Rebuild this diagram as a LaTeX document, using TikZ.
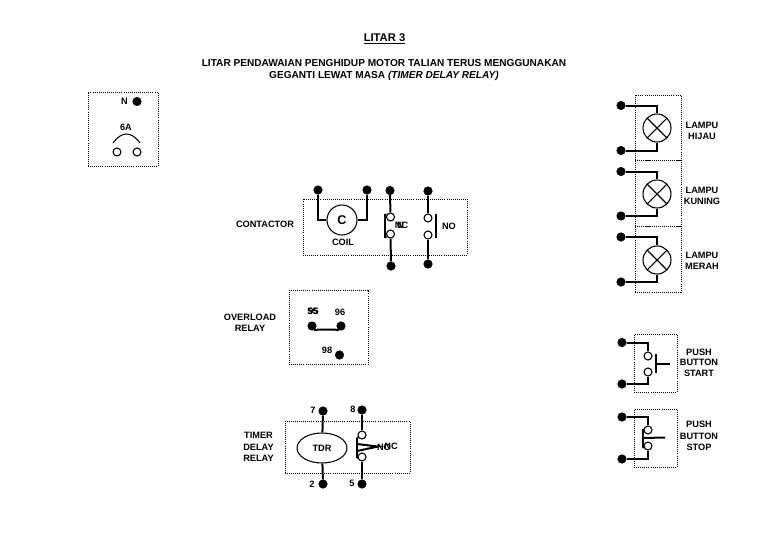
\documentclass[tikz,border=0pt]{standalone}
\usepackage{fontspec}
\setmainfont{Liberation Sans}
\usetikzlibrary{shapes}
\begin{document}
\begin{tikzpicture}[x=0.75pt,y=-0.75pt]
	\tikzstyle{wire}=[line width=1.5pt]
	\tikzstyle{thin wire}=[line width=0.8pt]
	\tikzstyle{term}=[circle, fill=black, draw=black, minimum size=6.4pt, inner sep=0pt]
	\tikzstyle{contact}=[circle, fill=white, draw=black, line width=0.8pt, minimum size=6pt, inner sep=0pt]
	\tikzstyle{lamp}=[circle, draw=black, line width=0.8pt, minimum size=21pt, inner sep=0pt,
		path picture={\draw[line width=0.8pt] (path picture bounding box.south west) -- (path picture bounding box.north east)
			(path picture bounding box.north west) -- (path picture bounding box.south east);}]
	\tikzstyle{dotbox}=[rectangle, draw=black, densely dotted, line width=0.55pt, inner sep=0pt]
	\tikzstyle{lbl}=[font=\bfseries\fontsize{6.9}{8}\selectfont, inner sep=0pt, align=center]
	\useasboundingbox (0,0) rectangle (768,543);

	% TITLE
	\node[lbl,font=\bfseries\fontsize{8.4}{10}\selectfont] (title) at (384.5,38.5) {\underline{LITAR 3}};
	\node[lbl,font=\bfseries\fontsize{7.58}{9}\selectfont] (sub1) at (384,63.5) {LITAR PENDAWAIAN PENGHIDUP MOTOR TALIAN TERUS MENGGUNAKAN};
	\node[lbl,font=\bfseries\fontsize{7.58}{9}\selectfont] (sub2) at (384,75.5) {GEGANTI LEWAT MASA \textit{(TIMER DELAY RELAY)}};

	% BOXES
	\node[dotbox,minimum width=52.5pt,minimum height=55.5pt] (boxfuse) at (123,129) {};
	\node[dotbox,minimum width=123pt,minimum height=42pt] (boxcon) at (385,227) {};
	\node[dotbox,minimum width=59.25pt,minimum height=55.5pt] (boxol) at (328.5,327) {};
	\node[dotbox,minimum width=93.75pt,minimum height=39pt] (boxtdr) at (347.5,447) {};
	\node[dotbox,minimum width=34.5pt,minimum height=48.75pt] (boxlh) at (658,127.5) {};
	\node[dotbox,minimum width=34.5pt,minimum height=49.5pt] (boxlk) at (658,193) {};
	\node[dotbox,minimum width=34.5pt,minimum height=49.5pt] (boxlm) at (658,259) {};
	\node[dotbox,minimum width=32.25pt,minimum height=43.5pt] (boxst) at (655.5,363) {};
	\node[dotbox,minimum width=32.25pt,minimum height=43.5pt] (boxsp) at (655.5,438) {};

	% FUSE
	\node[lbl] (lblN) at (124.5,101) {N};
	\node[term] (N) at (137,101.5) {};
	\node[lbl] (lbl6A) at (126,127) {6A};
	\node[contact] (F1) at (117,152) {};
	\node[contact] (F2) at (137,152) {};
	\coordinate (FA) at (113,143);
	\coordinate (FB) at (140,143);
	\draw[thin wire] (FA) .. controls (122,131) and (131,131) .. (FB);

	% CONTACTOR
	\node[lbl] (lblcon) at (265,224) {CONTACTOR};
	\node[circle,draw=black,line width=0.8pt,minimum size=22.5pt,inner sep=0pt,font=\bfseries\fontsize{9.5}{10}\selectfont] (C) at (342,220) {C};
	\node[lbl] (lblcoil) at (343,242) {COIL};
	\node[term] (A1) at (318,190) {};
	\node[term] (A2) at (367,190) {};
	\node[term] (B1) at (390,190.5) {};
	\node[term] (B2) at (391,266) {};
	\node[term] (D1) at (428,191) {};
	\node[term] (D2) at (428,264) {};
	\node[contact] (B3) at (390.5,217) {};
	\node[contact] (B4) at (390.5,234) {};
	\node[contact] (D3) at (428,218) {};
	\node[contact] (D4) at (428,235) {};
	\coordinate (BN1) at (385,214);
	\coordinate (BN2) at (385,238);
	\coordinate (DN1) at (436,214);
	\coordinate (DN2) at (436,238);
	\draw[wire] (A1) |- (C.west);
	\draw[wire] (A2) |- (C.east);
	\draw[wire] (B1) -- (B3);
	\draw[wire] (B4) -- (B2);
	\draw[wire] (D1) -- (D3);
	\draw[wire] (D4) -- (D2);
	\draw[wire] (BN1) -- (BN2);
	\draw[wire] (DN1) -- (DN2);
	\draw[thin wire] (BN1) -- (B3);
	\draw[thin wire] (BN2) -- (B4);
	\node[lbl] (lblnc) at (401.5,225) {NC};
	\node[lbl] (lblnc2) at (400.5,225) {N};
	\node[lbl] (lblno) at (449,226) {NO};

	% OVERLOAD
	\node[lbl] (lblol) at (250,323) {OVERLOAD\\RELAY};
	\node[lbl] (lbl55) at (312.5,311) {55};
	\node[lbl] (lbl95) at (313.5,311) {95};
	\node[lbl] (lbl96) at (340,312) {96};
	\node[lbl] (lbl98) at (327,350) {98};
	\node[term] (O95) at (312,326) {};
	\node[term] (O96) at (341,326) {};
	\node[term] (O98) at (339.5,355) {};
	\draw[wire] (O95) to[out=-60,in=180] (318,329.5) -- (335,329.5) to[out=0,in=240] (O96);

	% TIMER
	\node[lbl] (lbltdr) at (258.5,447) {TIMER\\[0.6pt]DELAY\\[0.6pt]RELAY};
	\node[ellipse,draw=black,line width=0.8pt,minimum width=37.5pt,minimum height=22.5pt,inner sep=0pt,lbl] (TDR) at (322,448) {TDR};
	\node[lbl] (lbl7) at (313,410) {7};
	\node[lbl] (lbl8) at (353,409) {8};
	\node[lbl] (lbl2) at (312,484) {2};
	\node[lbl] (lbl5) at (352,483) {5};
	\node[term] (T7) at (323,411) {};
	\node[term] (T8) at (362,410) {};
	\node[term] (T2) at (323,484) {};
	\node[term] (T5) at (362,484) {};
	\node[contact] (T3) at (362,435) {};
	\node[contact] (T4) at (362,457) {};
	\coordinate (TN1) at (357,438);
	\coordinate (TN2) at (357,458);
	\coordinate (TA) at (357,444);
	\coordinate (TB) at (357,451);
	\coordinate (TP) at (378,446.5);
	\draw[wire] (T7) -- (TDR);
	\draw[wire] (T2) -- (TDR);
	\draw[wire] (T8) -- (T3);
	\draw[wire] (T5) -- (T4);
	\draw[wire] (TN1) -- (TN2);
	\draw[wire] (TN1) -- (T3);
	\draw[wire] (TN2) -- (T4);
	\draw[wire] (TA) -- (TP) -- (TB);
	\node[lbl] (lblno2) at (384,447) {NO};
	\node[lbl] (lblnc3) at (391,446) {NC};

	% LAMPS
	\node[lamp] (L1) at (657,128) {};
	\node[lamp] (L2) at (657,194) {};
	\node[lamp] (L3) at (657,260) {};
	\node[term] (L1a) at (621,105.5) {};
	\node[term] (L1b) at (621,150.5) {};
	\node[term] (L2a) at (621,171.5) {};
	\node[term] (L2b) at (621,216) {};
	\node[term] (L3a) at (621,237) {};
	\node[term] (L3b) at (621,282) {};
	\draw[wire] (L1a) -| (L1);
	\draw[wire] (L1b) -| (L1);
	\draw[wire] (L2a) -| (L2);
	\draw[wire] (L2b) -| (L2);
	\draw[wire] (L3a) -| (L3);
	\draw[wire] (L3b) -| (L3);
	\node[lbl] (lblL1) at (702,130.5) {LAMPU\\[0.2pt]HIJAU};
	\node[lbl] (lblL2) at (702,196) {LAMPU\\[0.6pt]KUNING};
	\node[lbl] (lblL3) at (702,261) {LAMPU\\[0.6pt]MERAH};

	% PUSH BUTTONS
	\node[term] (S1) at (622,342.5) {};
	\node[term] (S2) at (622,384) {};
	\node[contact] (S3) at (648,356) {};
	\node[contact] (S4) at (648,372) {};
	\coordinate (SN1) at (656,354);
	\coordinate (SN2) at (656,373);
	\coordinate (SN3) at (656,363.5);
	\coordinate (SP) at (670,363.5);
	\draw[wire] (S1) -| (S3);
	\draw[wire] (S2) -| (S4);
	\draw[wire] (SN1) -- (SN2);
	\draw[wire] (SN3) -- (SP);
	\node[lbl] (lblS) at (699,362.5) {PUSH\\BUTTON\\START};

	\node[term] (P1) at (622,417) {};
	\node[term] (P2) at (622,459) {};
	\node[contact] (P3) at (648,430) {};
	\node[contact] (P4) at (648,446) {};
	\coordinate (PN1) at (643,429);
	\coordinate (PN2) at (643,448);
	\coordinate (PN3) at (643,438);
	\coordinate (PP) at (665,437.5);
	\draw[wire] (P1) -| (P3);
	\draw[wire] (P2) -| (P4);
	\draw[wire] (PN1) -- (PN2);
	\draw[wire] (PN3) -- (PP);
	\draw[thin wire] (PN1) -- (P3);
	\draw[thin wire] (PN2) -- (P4);
	\node[lbl] (lblP) at (699,436) {PUSH\\[0.6pt]BUTTON\\[0.6pt]STOP};
\end{tikzpicture}
\end{document}
